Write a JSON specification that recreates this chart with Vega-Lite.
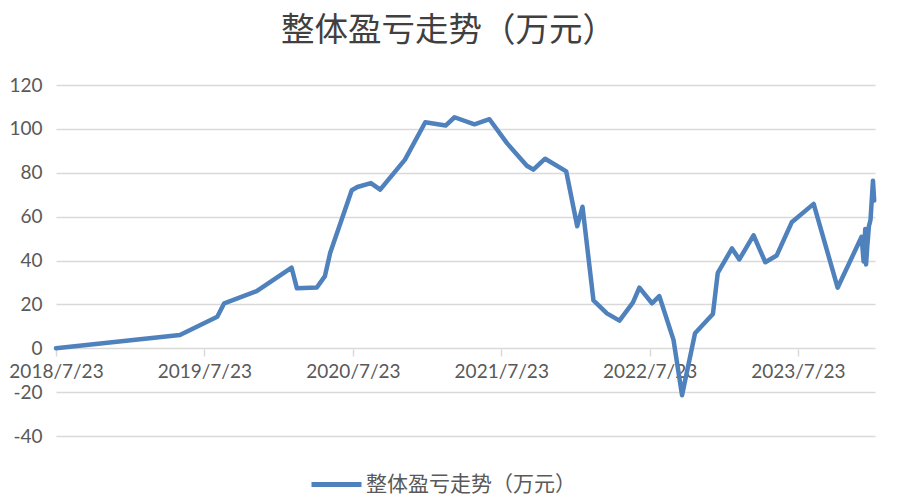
{
  "$schema": "https://vega.github.io/schema/vega-lite/v6.json",
  "width": 819,
  "height": 351,
  "autosize": {"type": "none"},
  "padding": {"left": 56, "top": 85, "right": 22, "bottom": 66},
  "background": "white",
  "title": {"text": "整体盈亏走势（万元）", "fontSize": 33.5, "font": "Noto Sans CJK SC", "fontWeight": "normal", "color": "#404040", "anchor": "middle", "offset": 28, "dx": -17},
  "config": {"view": {"stroke": null}},
  "data": {"values": [
    {"date": "2018/07/23", "value": 0},
    {"date": "2019/05/24", "value": 6},
    {"date": "2019/08/24", "value": 14.4},
    {"date": "2019/09/10", "value": 20.5},
    {"date": "2019/11/29", "value": 26},
    {"date": "2020/02/23", "value": 36.7},
    {"date": "2020/03/07", "value": 27.3},
    {"date": "2020/04/25", "value": 27.7},
    {"date": "2020/05/15", "value": 32.9},
    {"date": "2020/05/28", "value": 43.5},
    {"date": "2020/07/20", "value": 72},
    {"date": "2020/08/03", "value": 73.5},
    {"date": "2020/09/05", "value": 75.3},
    {"date": "2020/09/28", "value": 72.3},
    {"date": "2020/11/28", "value": 86},
    {"date": "2021/01/17", "value": 103},
    {"date": "2021/03/08", "value": 101.5},
    {"date": "2021/03/30", "value": 105.3},
    {"date": "2021/05/18", "value": 102.1},
    {"date": "2021/06/24", "value": 104.4},
    {"date": "2021/08/06", "value": 93.5},
    {"date": "2021/09/24", "value": 83.2},
    {"date": "2021/10/10", "value": 81.4},
    {"date": "2021/11/08", "value": 86.4},
    {"date": "2021/12/30", "value": 80.6},
    {"date": "2022/01/26", "value": 55.6},
    {"date": "2022/02/08", "value": 64.5},
    {"date": "2022/03/07", "value": 21.8},
    {"date": "2022/04/09", "value": 15.9},
    {"date": "2022/05/10", "value": 12.6},
    {"date": "2022/06/12", "value": 20.8},
    {"date": "2022/06/28", "value": 27.6},
    {"date": "2022/07/29", "value": 20.5},
    {"date": "2022/08/16", "value": 23.8},
    {"date": "2022/09/20", "value": 3.8},
    {"date": "2022/10/11", "value": -21.4},
    {"date": "2022/11/12", "value": 6.8},
    {"date": "2022/12/26", "value": 15.6},
    {"date": "2023/01/07", "value": 34.4},
    {"date": "2023/02/11", "value": 45.5},
    {"date": "2023/03/01", "value": 40.5},
    {"date": "2023/04/05", "value": 51.5},
    {"date": "2023/05/04", "value": 39.2},
    {"date": "2023/06/01", "value": 42.3},
    {"date": "2023/07/08", "value": 57.4},
    {"date": "2023/08/31", "value": 65.8},
    {"date": "2023/10/29", "value": 27.6},
    {"date": "2023/12/27", "value": 50.8},
    {"date": "2024/01/01", "value": 39.5},
    {"date": "2024/01/05", "value": 54.4},
    {"date": "2024/01/07", "value": 38.2},
    {"date": "2024/01/10", "value": 46.5},
    {"date": "2024/01/14", "value": 55.6},
    {"date": "2024/01/18", "value": 58.6},
    {"date": "2024/01/24", "value": 76.4},
    {"date": "2024/01/27", "value": 67.3}
  ]},
  "mark": {"type": "line", "strokeWidth": 4.5, "strokeCap": "round", "strokeJoin": "round"},
  "encoding": {
    "x": {
      "field": "date", "type": "temporal",
      "scale": {"domain": [{"year": 2018, "month": 7, "date": 23}, {"year": 2024, "month": 1, "date": 29}]},
      "axis": {
        "values": [{"year": 2018, "month": 7, "date": 23}, {"year": 2019, "month": 7, "date": 23}, {"year": 2020, "month": 7, "date": 23}, {"year": 2021, "month": 7, "date": 23}, {"year": 2022, "month": 7, "date": 23}, {"year": 2023, "month": 7, "date": 23}],
        "format": "%Y/%-m/%-d",
        "offset": -87,
        "domain": false,
        "grid": false,
        "tickColor": "#d9d9d9",
        "tickSize": 7,
        "tickWidth": 1.5,
        "labelFont": "Lato",
        "labelFontSize": 19,
        "labelColor": "#595959",
        "labelPadding": 6,
        "labelFlush": false,
        "labelOverlap": false,
        "title": null
      }
    },
    "y": {
      "field": "value", "type": "quantitative",
      "scale": {"domain": [-40, 120], "nice": false, "zero": false},
      "axis": {
        "values": [-40, -20, 0, 20, 40, 60, 80, 100, 120],
        "labelExpr": "datum.value < 0 ? '-' + abs(datum.value) : '' + datum.value",
        "grid": true,
        "gridColor": "#d9d9d9",
        "gridWidth": 1.5,
        "domain": false,
        "ticks": false,
        "labelPadding": 14,
        "labelFont": "Lato",
        "labelFontSize": 19,
        "labelColor": "#595959",
        "title": null
      }
    },
    "color": {
      "datum": "整体盈亏走势（万元）",
      "scale": {"range": ["#4f81bd"]},
      "legend": {
        "orient": "none",
        "legendX": 253,
        "legendY": 372,
        "title": null,
        "symbolType": "stroke",
        "symbolStrokeWidth": 5,
        "symbolSize": 2500,
        "labelFont": "Noto Sans CJK SC",
        "labelFontSize": 21,
        "labelColor": "#595959",
        "labelOffset": 2,
        "labelLimit": 400
      }
    }
  }
}
